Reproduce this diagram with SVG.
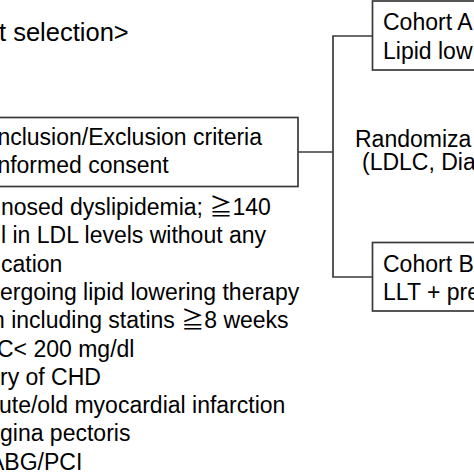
<svg xmlns="http://www.w3.org/2000/svg" width="474" height="474" viewBox="0 0 474 474">
<style>
text{font-family:"Liberation Sans","Noto Sans CJK JP",Arial,sans-serif;font-size:23px;fill:#000}
.box{fill:#fff;stroke:#3a3a3a;stroke-width:1.7}
.ln{fill:none;stroke:#3a3a3a;stroke-width:1.7}
</style>
<rect width="474" height="474" fill="#fff"/>
<text x="-1" y="41" style="font-size:25.5px">t selection&gt;</text>
<g id="connectors">
<polyline class="ln" points="298,152 333,152"/>
<polyline class="ln" points="372.5,36 333,36 333,277 372.5,277"/>
</g>
<g id="criteria">
<rect class="box" x="-10" y="117.5" width="308" height="69"/>
<text x="-9" y="145">Inclusion/Exclusion criteria</text>
<text x="-9" y="173">Informed consent</text>
</g>
<g id="cohortA">
<rect class="box" x="372.5" y="1" width="120" height="69"/>
<text x="383" y="29.5">Cohort A</text>
<text x="383" y="59">Lipid low</text>
</g>
<g id="randomization">
<text x="355" y="147">Randomiza</text>
<text x="362" y="170">(LDLC, Dia</text>
</g>
<g id="cohortB">
<rect class="box" x="372.5" y="242.5" width="120" height="68.5"/>
<text x="383" y="272">Cohort B</text>
<text x="383" y="300">LLT + pre</text>
</g>
<g id="list">
<text x="1" y="215">nosed dyslipidemia; ≧140</text>
<text x="1" y="243.3">l in LDL levels without any</text>
<text x="1" y="271.6">cation</text>
<text x="0" y="300">ergoing lipid lowering therapy</text>
<text x="-8" y="328">n including statins ≧8 weeks</text>
<text x="-3" y="356.5">C&lt; 200 mg/dl</text>
<text x="0" y="385">ry of CHD</text>
<text x="-1" y="413">ute/old myocardial infarction</text>
<text x="0" y="441">gina pectoris</text>
<text x="-11" y="470">ABG/PCI</text>
</g>
</svg>
